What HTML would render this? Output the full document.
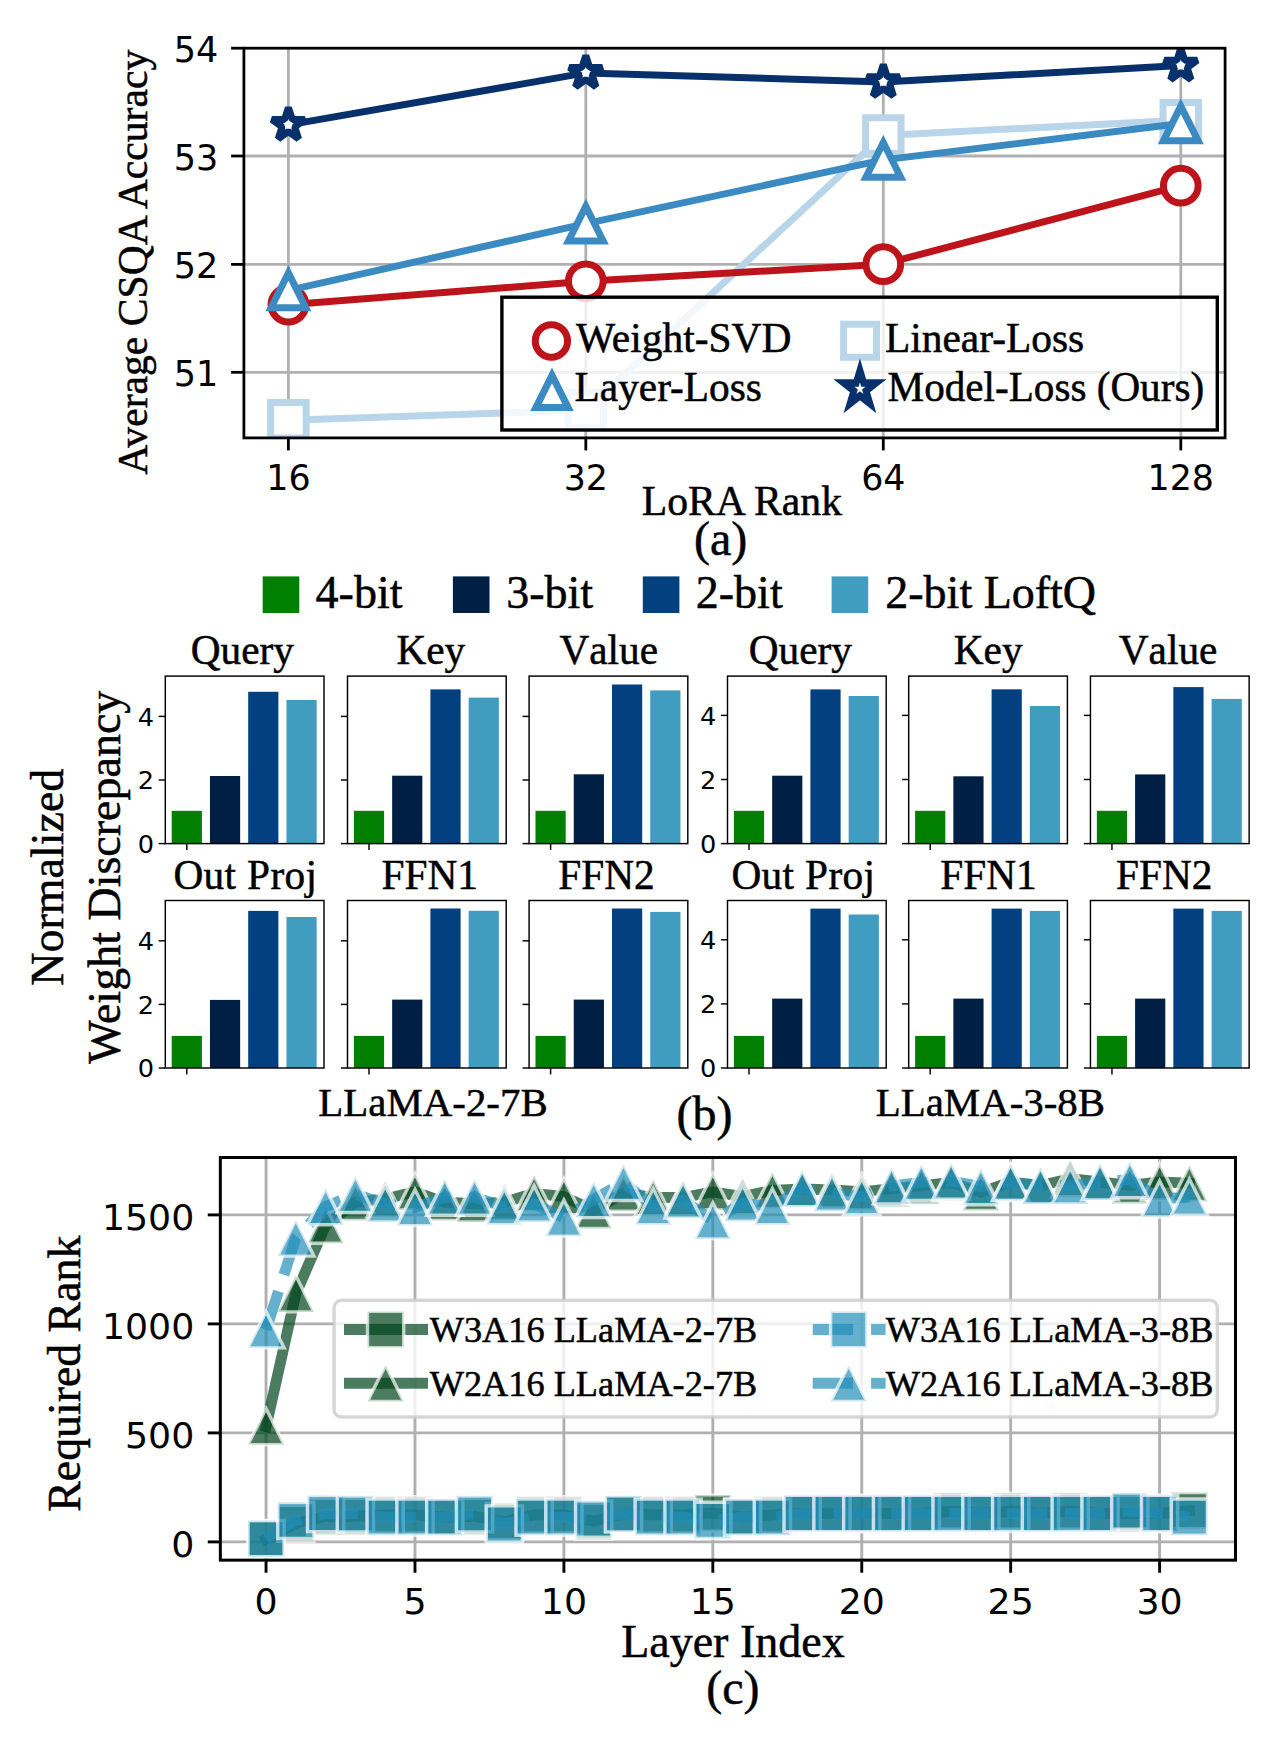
<!DOCTYPE html>
<html><head><meta charset="utf-8"><title>Figure</title>
<style>html,body{margin:0;padding:0;background:#fff}svg{display:block}</style></head>
<body>
<svg width="1265" height="1746" viewBox="0 0 1265 1746">
<rect width="1265" height="1746" fill="#fff"/>
<defs><clipPath id="ca"><rect x="243.9" y="48.2" width="981.2" height="389.7"/></clipPath></defs>
<line x1="288.4" y1="48.2" x2="288.4" y2="437.9" stroke="#b0b0b0" stroke-width="2.8" />
<line x1="585.8" y1="48.2" x2="585.8" y2="437.9" stroke="#b0b0b0" stroke-width="2.8" />
<line x1="883.3" y1="48.2" x2="883.3" y2="437.9" stroke="#b0b0b0" stroke-width="2.8" />
<line x1="1180.8" y1="48.2" x2="1180.8" y2="437.9" stroke="#b0b0b0" stroke-width="2.8" />
<line x1="243.9" y1="156" x2="1225.1" y2="156" stroke="#b0b0b0" stroke-width="2.8" />
<line x1="243.9" y1="264.4" x2="1225.1" y2="264.4" stroke="#b0b0b0" stroke-width="2.8" />
<line x1="243.9" y1="372.3" x2="1225.1" y2="372.3" stroke="#b0b0b0" stroke-width="2.8" />
<g clip-path="url(#ca)">
<polyline points="288.4,420.2 585.8,410.1 883.3,135.4 1180.8,120.3" fill="none" stroke="#b9d5ea" stroke-width="7" stroke-linejoin="round"/>
<path d="M270.65,402.45H306.15V437.95H270.65Z" fill="#fff" stroke="#b9d5ea" stroke-width="7" stroke-linejoin="miter"/>
<path d="M568.05,392.35H603.55V427.85H568.05Z" fill="#fff" stroke="#b9d5ea" stroke-width="7" stroke-linejoin="miter"/>
<path d="M865.55,117.65H901.05V153.15H865.55Z" fill="#fff" stroke="#b9d5ea" stroke-width="7" stroke-linejoin="miter"/>
<path d="M1163.05,102.55H1198.55V138.05H1163.05Z" fill="#fff" stroke="#b9d5ea" stroke-width="7" stroke-linejoin="miter"/>
<polyline points="288.4,304.7 585.8,281.3 883.3,264.15 1180.8,185.7" fill="none" stroke="#bc141a" stroke-width="7" stroke-linejoin="round"/>
<circle cx="288.4" cy="304.7" r="17.35" fill="#fff" stroke="#bc141a" stroke-width="7"/>
<circle cx="585.8" cy="281.3" r="17.35" fill="#fff" stroke="#bc141a" stroke-width="7"/>
<circle cx="883.3" cy="264.15" r="17.35" fill="#fff" stroke="#bc141a" stroke-width="7"/>
<circle cx="1180.8" cy="185.7" r="17.35" fill="#fff" stroke="#bc141a" stroke-width="7"/>
<polyline points="288.4,290.3 585.8,223.7 883.3,159.9 1180.8,123.5" fill="none" stroke="#3b8bc2" stroke-width="7" stroke-linejoin="round"/>
<path d="M288.4,272.95L271.05,307.65L305.75,307.65Z" fill="#fff" stroke="#3b8bc2" stroke-width="7" stroke-linejoin="miter" stroke-miterlimit="10"/>
<path d="M585.8,206.35L568.45,241.05L603.15,241.05Z" fill="#fff" stroke="#3b8bc2" stroke-width="7" stroke-linejoin="miter" stroke-miterlimit="10"/>
<path d="M883.3,142.55L865.95,177.25L900.65,177.25Z" fill="#fff" stroke="#3b8bc2" stroke-width="7" stroke-linejoin="miter" stroke-miterlimit="10"/>
<path d="M1180.8,106.15L1163.45,140.85L1198.15,140.85Z" fill="#fff" stroke="#3b8bc2" stroke-width="7" stroke-linejoin="miter" stroke-miterlimit="10"/>
<polyline points="288.4,124.9 585.8,72.9 883.3,82 1180.8,65.6" fill="none" stroke="#08306b" stroke-width="7" stroke-linejoin="round"/>
<path d="M288.4,107.55L284.5,119.54L271.9,119.54L282.1,126.95L278.2,138.94L288.4,131.53L298.6,138.94L294.7,126.95L304.9,119.54L292.3,119.54Z" fill="#fff" stroke="#08306b" stroke-width="7" stroke-linejoin="bevel" stroke-miterlimit="10"/>
<path d="M585.8,55.55L581.9,67.54L569.3,67.54L579.5,74.95L575.6,86.94L585.8,79.53L596,86.94L592.1,74.95L602.3,67.54L589.7,67.54Z" fill="#fff" stroke="#08306b" stroke-width="7" stroke-linejoin="bevel" stroke-miterlimit="10"/>
<path d="M883.3,64.65L879.4,76.64L866.8,76.64L877,84.05L873.1,96.04L883.3,88.63L893.5,96.04L889.6,84.05L899.8,76.64L887.2,76.64Z" fill="#fff" stroke="#08306b" stroke-width="7" stroke-linejoin="bevel" stroke-miterlimit="10"/>
<path d="M1180.8,48.25L1176.9,60.24L1164.3,60.24L1174.5,67.65L1170.6,79.64L1180.8,72.23L1191,79.64L1187.1,67.65L1197.3,60.24L1184.7,60.24Z" fill="#fff" stroke="#08306b" stroke-width="7" stroke-linejoin="bevel" stroke-miterlimit="10"/>
</g>
<rect x="243.9" y="48.2" width="981.2" height="389.7" fill="none" stroke="#000" stroke-width="2.8"/>
<line x1="288.4" y1="437.9" x2="288.4" y2="450.4" stroke="#000" stroke-width="2.8" />
<line x1="585.8" y1="437.9" x2="585.8" y2="450.4" stroke="#000" stroke-width="2.8" />
<line x1="883.3" y1="437.9" x2="883.3" y2="450.4" stroke="#000" stroke-width="2.8" />
<line x1="1180.8" y1="437.9" x2="1180.8" y2="450.4" stroke="#000" stroke-width="2.8" />
<line x1="231.1" y1="48.2" x2="243.9" y2="48.2" stroke="#000" stroke-width="2.8" />
<line x1="231.1" y1="156" x2="243.9" y2="156" stroke="#000" stroke-width="2.8" />
<line x1="231.1" y1="264.4" x2="243.9" y2="264.4" stroke="#000" stroke-width="2.8" />
<line x1="231.1" y1="372.3" x2="243.9" y2="372.3" stroke="#000" stroke-width="2.8" />
<text x="218.2" y="61.7" font-size="35" font-family="'DejaVu Sans','Liberation Sans',sans-serif" text-anchor="end" >54</text>
<text x="218.2" y="169.5" font-size="35" font-family="'DejaVu Sans','Liberation Sans',sans-serif" text-anchor="end" >53</text>
<text x="218.2" y="277.9" font-size="35" font-family="'DejaVu Sans','Liberation Sans',sans-serif" text-anchor="end" >52</text>
<text x="218.2" y="385.8" font-size="35" font-family="'DejaVu Sans','Liberation Sans',sans-serif" text-anchor="end" >51</text>
<text x="288.4" y="490.4" font-size="34.8" font-family="'DejaVu Sans','Liberation Sans',sans-serif" text-anchor="middle" >16</text>
<text x="585.8" y="490.4" font-size="34.8" font-family="'DejaVu Sans','Liberation Sans',sans-serif" text-anchor="middle" >32</text>
<text x="883.3" y="490.4" font-size="34.8" font-family="'DejaVu Sans','Liberation Sans',sans-serif" text-anchor="middle" >64</text>
<text x="1180.8" y="490.4" font-size="34.8" font-family="'DejaVu Sans','Liberation Sans',sans-serif" text-anchor="middle" >128</text>
<text transform="translate(146.8,262.2) rotate(-90)" font-size="41.67" font-family="'Liberation Serif',serif" stroke="#000" stroke-width="0.5" text-anchor="middle">Average CSQA Accuracy</text>
<text x="741.9" y="514.6" font-size="41.67" font-family="'Liberation Serif',serif" stroke="#000" stroke-width="0.5" text-anchor="middle" >LoRA Rank</text>
<text x="720.6" y="555" font-size="48" font-family="'Liberation Serif',serif" stroke="#000" stroke-width="0.5" text-anchor="middle" >(a)</text>
<rect x="501.9" y="297.2" width="715.4" height="132.8" fill="#fff" fill-opacity="0.8" stroke="#000" stroke-width="3.4"/>
<circle cx="551.4" cy="341" r="16.15" fill="#fff" stroke="#bc141a" stroke-width="7"/>
<path d="M552,375.4L535.9,407.6L568.1,407.6Z" fill="#fff" stroke="#3b8bc2" stroke-width="7" stroke-linejoin="miter" stroke-miterlimit="10"/>
<path d="M843.6,324.35H876.5V357.25H843.6Z" fill="#fff" stroke="#b9d5ea" stroke-width="7" stroke-linejoin="miter"/>
<g transform="translate(859.95,388.7) scale(0.972,1.054)">
<path d="M0,-17.35L-3.9,-5.36L-16.5,-5.36L-6.3,2.05L-10.2,14.04L-0,6.63L10.2,14.04L6.3,2.05L16.5,-5.36L3.9,-5.36Z" fill="#fff" stroke="#08306b" stroke-width="7" stroke-linejoin="miter" stroke-miterlimit="10"/>
</g>
<text x="576" y="352.1" font-size="41.45" font-family="'Liberation Serif',serif" stroke="#000" stroke-width="0.5" text-anchor="start" >Weight-SVD</text>
<text x="574.6" y="400.7" font-size="41.3" font-family="'Liberation Serif',serif" stroke="#000" stroke-width="0.5" text-anchor="start" >Layer-Loss</text>
<text x="885" y="352.1" font-size="41.4" font-family="'Liberation Serif',serif" stroke="#000" stroke-width="0.5" text-anchor="start" >Linear-Loss</text>
<text x="887.6" y="400.7" font-size="41.15" font-family="'Liberation Serif',serif" stroke="#000" stroke-width="0.5" text-anchor="start" >Model-Loss (Ours)</text>
<rect x="262.7" y="576.4" width="36.6" height="36.6" fill="#007f00" />
<text x="315.6" y="608.3" font-size="46" font-family="'Liberation Serif',serif" stroke="#000" stroke-width="0.5" text-anchor="start" >4-bit</text>
<rect x="452.9" y="576.4" width="36.6" height="36.6" fill="#001f44" />
<text x="506.2" y="608.3" font-size="46" font-family="'Liberation Serif',serif" stroke="#000" stroke-width="0.5" text-anchor="start" >3-bit</text>
<rect x="642.8" y="576.4" width="36.6" height="36.6" fill="#03407f" />
<text x="695.8" y="608.3" font-size="46" font-family="'Liberation Serif',serif" stroke="#000" stroke-width="0.5" text-anchor="start" >2-bit</text>
<rect x="831.6" y="576.4" width="36.6" height="36.6" fill="#409dbf" />
<text x="885.3" y="608.3" font-size="46" font-family="'Liberation Serif',serif" stroke="#000" stroke-width="0.5" text-anchor="start" >2-bit LoftQ</text>
<rect x="171.7" y="810.8" width="30.2" height="32.8" fill="#007f00" />
<rect x="209.95" y="776" width="30.2" height="67.6" fill="#001f44" />
<rect x="248.2" y="691.8" width="30.2" height="151.8" fill="#03407f" />
<rect x="286.45" y="700" width="30.2" height="143.6" fill="#409dbf" />
<rect x="165.3" y="676.1" width="158.7" height="167.5" fill="none" stroke="#000" stroke-width="1.45"/>
<line x1="158.7" y1="843.6" x2="165.3" y2="843.6" stroke="#000" stroke-width="1.45" />
<text x="154" y="853" font-size="25.6" font-family="'DejaVu Sans','Liberation Sans',sans-serif" text-anchor="end" >0</text>
<line x1="158.7" y1="780" x2="165.3" y2="780" stroke="#000" stroke-width="1.45" />
<text x="154" y="789.4" font-size="25.6" font-family="'DejaVu Sans','Liberation Sans',sans-serif" text-anchor="end" >2</text>
<line x1="158.7" y1="716.4" x2="165.3" y2="716.4" stroke="#000" stroke-width="1.45" />
<text x="154" y="725.8" font-size="25.6" font-family="'DejaVu Sans','Liberation Sans',sans-serif" text-anchor="end" >4</text>
<line x1="186.8" y1="843.6" x2="186.8" y2="850" stroke="#000" stroke-width="1.45" />
<text x="190.7" y="664" font-size="41.3" font-family="'Liberation Serif',serif" stroke="#000" stroke-width="0.5" text-anchor="start" >Query</text>
<rect x="353.9" y="810.8" width="30.2" height="32.8" fill="#007f00" />
<rect x="392.15" y="775.7" width="30.2" height="67.9" fill="#001f44" />
<rect x="430.4" y="689.4" width="30.2" height="154.2" fill="#03407f" />
<rect x="468.65" y="697.6" width="30.2" height="146" fill="#409dbf" />
<rect x="347.5" y="676.1" width="158.7" height="167.5" fill="none" stroke="#000" stroke-width="1.45"/>
<line x1="340.9" y1="843.6" x2="347.5" y2="843.6" stroke="#000" stroke-width="1.45" />
<line x1="340.9" y1="780" x2="347.5" y2="780" stroke="#000" stroke-width="1.45" />
<line x1="340.9" y1="716.4" x2="347.5" y2="716.4" stroke="#000" stroke-width="1.45" />
<line x1="369" y1="843.6" x2="369" y2="850" stroke="#000" stroke-width="1.45" />
<text x="396.4" y="664" font-size="41.3" font-family="'Liberation Serif',serif" stroke="#000" stroke-width="0.5" text-anchor="start" >Key</text>
<rect x="535.5" y="810.8" width="30.2" height="32.8" fill="#007f00" />
<rect x="573.75" y="774.3" width="30.2" height="69.3" fill="#001f44" />
<rect x="612" y="684.5" width="30.2" height="159.1" fill="#03407f" />
<rect x="650.25" y="690.4" width="30.2" height="153.2" fill="#409dbf" />
<rect x="529.1" y="676.1" width="158.7" height="167.5" fill="none" stroke="#000" stroke-width="1.45"/>
<line x1="522.5" y1="843.6" x2="529.1" y2="843.6" stroke="#000" stroke-width="1.45" />
<line x1="522.5" y1="780" x2="529.1" y2="780" stroke="#000" stroke-width="1.45" />
<line x1="522.5" y1="716.4" x2="529.1" y2="716.4" stroke="#000" stroke-width="1.45" />
<line x1="550.6" y1="843.6" x2="550.6" y2="850" stroke="#000" stroke-width="1.45" />
<text x="559.4" y="664" font-size="41.3" font-family="'Liberation Serif',serif" stroke="#000" stroke-width="0.5" text-anchor="start" style="font-kerning:none">Value</text>
<rect x="733.9" y="810.8" width="30.2" height="32.8" fill="#007f00" />
<rect x="772.15" y="775.7" width="30.2" height="67.9" fill="#001f44" />
<rect x="810.4" y="689.4" width="30.2" height="154.2" fill="#03407f" />
<rect x="848.65" y="696" width="30.2" height="147.6" fill="#409dbf" />
<rect x="727.5" y="676.1" width="158.7" height="167.5" fill="none" stroke="#000" stroke-width="1.45"/>
<line x1="720.9" y1="843.6" x2="727.5" y2="843.6" stroke="#000" stroke-width="1.45" />
<text x="716.2" y="853" font-size="25.6" font-family="'DejaVu Sans','Liberation Sans',sans-serif" text-anchor="end" >0</text>
<line x1="720.9" y1="779.5" x2="727.5" y2="779.5" stroke="#000" stroke-width="1.45" />
<text x="716.2" y="788.9" font-size="25.6" font-family="'DejaVu Sans','Liberation Sans',sans-serif" text-anchor="end" >2</text>
<line x1="720.9" y1="715.4" x2="727.5" y2="715.4" stroke="#000" stroke-width="1.45" />
<text x="716.2" y="724.8" font-size="25.6" font-family="'DejaVu Sans','Liberation Sans',sans-serif" text-anchor="end" >4</text>
<line x1="749" y1="843.6" x2="749" y2="850" stroke="#000" stroke-width="1.45" />
<text x="748.7" y="664" font-size="41.3" font-family="'Liberation Serif',serif" stroke="#000" stroke-width="0.5" text-anchor="start" >Query</text>
<rect x="915.1" y="810.8" width="30.2" height="32.8" fill="#007f00" />
<rect x="953.35" y="776.3" width="30.2" height="67.3" fill="#001f44" />
<rect x="991.6" y="689.3" width="30.2" height="154.3" fill="#03407f" />
<rect x="1029.85" y="706" width="30.2" height="137.6" fill="#409dbf" />
<rect x="908.7" y="676.1" width="158.7" height="167.5" fill="none" stroke="#000" stroke-width="1.45"/>
<line x1="902.1" y1="843.6" x2="908.7" y2="843.6" stroke="#000" stroke-width="1.45" />
<line x1="902.1" y1="779.5" x2="908.7" y2="779.5" stroke="#000" stroke-width="1.45" />
<line x1="902.1" y1="715.4" x2="908.7" y2="715.4" stroke="#000" stroke-width="1.45" />
<line x1="930.2" y1="843.6" x2="930.2" y2="850" stroke="#000" stroke-width="1.45" />
<text x="953.8" y="664" font-size="41.3" font-family="'Liberation Serif',serif" stroke="#000" stroke-width="0.5" text-anchor="start" >Key</text>
<rect x="1096.85" y="810.8" width="30.2" height="32.8" fill="#007f00" />
<rect x="1135.1" y="774.4" width="30.2" height="69.2" fill="#001f44" />
<rect x="1173.35" y="687.1" width="30.2" height="156.5" fill="#03407f" />
<rect x="1211.6" y="698.9" width="30.2" height="144.7" fill="#409dbf" />
<rect x="1090.45" y="676.1" width="158.7" height="167.5" fill="none" stroke="#000" stroke-width="1.45"/>
<line x1="1083.85" y1="843.6" x2="1090.45" y2="843.6" stroke="#000" stroke-width="1.45" />
<line x1="1083.85" y1="779.5" x2="1090.45" y2="779.5" stroke="#000" stroke-width="1.45" />
<line x1="1083.85" y1="715.4" x2="1090.45" y2="715.4" stroke="#000" stroke-width="1.45" />
<line x1="1111.95" y1="843.6" x2="1111.95" y2="850" stroke="#000" stroke-width="1.45" />
<text x="1118.8" y="664" font-size="41.3" font-family="'Liberation Serif',serif" stroke="#000" stroke-width="0.5" text-anchor="start" style="font-kerning:none">Value</text>
<rect x="171.7" y="1035.9" width="30.2" height="32.1" fill="#007f00" />
<rect x="209.95" y="999.9" width="30.2" height="68.1" fill="#001f44" />
<rect x="248.2" y="910.9" width="30.2" height="157.1" fill="#03407f" />
<rect x="286.45" y="917" width="30.2" height="151" fill="#409dbf" />
<rect x="165.3" y="900.5" width="158.7" height="167.5" fill="none" stroke="#000" stroke-width="1.45"/>
<line x1="158.7" y1="1068" x2="165.3" y2="1068" stroke="#000" stroke-width="1.45" />
<text x="154" y="1077.4" font-size="25.6" font-family="'DejaVu Sans','Liberation Sans',sans-serif" text-anchor="end" >0</text>
<line x1="158.7" y1="1004.4" x2="165.3" y2="1004.4" stroke="#000" stroke-width="1.45" />
<text x="154" y="1013.8" font-size="25.6" font-family="'DejaVu Sans','Liberation Sans',sans-serif" text-anchor="end" >2</text>
<line x1="158.7" y1="940.8" x2="165.3" y2="940.8" stroke="#000" stroke-width="1.45" />
<text x="154" y="950.2" font-size="25.6" font-family="'DejaVu Sans','Liberation Sans',sans-serif" text-anchor="end" >4</text>
<line x1="186.8" y1="1068" x2="186.8" y2="1074.4" stroke="#000" stroke-width="1.45" />
<text x="173.4" y="889.3" font-size="41.3" font-family="'Liberation Serif',serif" stroke="#000" stroke-width="0.5" text-anchor="start" letter-spacing="0.35">Out Proj</text>
<rect x="353.9" y="1035.9" width="30.2" height="32.1" fill="#007f00" />
<rect x="392.15" y="999.6" width="30.2" height="68.4" fill="#001f44" />
<rect x="430.4" y="908.5" width="30.2" height="159.5" fill="#03407f" />
<rect x="468.65" y="910.8" width="30.2" height="157.2" fill="#409dbf" />
<rect x="347.5" y="900.5" width="158.7" height="167.5" fill="none" stroke="#000" stroke-width="1.45"/>
<line x1="340.9" y1="1068" x2="347.5" y2="1068" stroke="#000" stroke-width="1.45" />
<line x1="340.9" y1="1004.4" x2="347.5" y2="1004.4" stroke="#000" stroke-width="1.45" />
<line x1="340.9" y1="940.8" x2="347.5" y2="940.8" stroke="#000" stroke-width="1.45" />
<line x1="369" y1="1068" x2="369" y2="1074.4" stroke="#000" stroke-width="1.45" />
<text x="381.5" y="889.3" font-size="41.3" font-family="'Liberation Serif',serif" stroke="#000" stroke-width="0.5" text-anchor="start" >FFN1</text>
<rect x="535.5" y="1035.9" width="30.2" height="32.1" fill="#007f00" />
<rect x="573.75" y="999.6" width="30.2" height="68.4" fill="#001f44" />
<rect x="612" y="908.5" width="30.2" height="159.5" fill="#03407f" />
<rect x="650.25" y="911.9" width="30.2" height="156.1" fill="#409dbf" />
<rect x="529.1" y="900.5" width="158.7" height="167.5" fill="none" stroke="#000" stroke-width="1.45"/>
<line x1="522.5" y1="1068" x2="529.1" y2="1068" stroke="#000" stroke-width="1.45" />
<line x1="522.5" y1="1004.4" x2="529.1" y2="1004.4" stroke="#000" stroke-width="1.45" />
<line x1="522.5" y1="940.8" x2="529.1" y2="940.8" stroke="#000" stroke-width="1.45" />
<line x1="550.6" y1="1068" x2="550.6" y2="1074.4" stroke="#000" stroke-width="1.45" />
<text x="558.3" y="889.3" font-size="41.3" font-family="'Liberation Serif',serif" stroke="#000" stroke-width="0.5" text-anchor="start" >FFN2</text>
<rect x="733.9" y="1035.9" width="30.2" height="32.1" fill="#007f00" />
<rect x="772.15" y="998.6" width="30.2" height="69.4" fill="#001f44" />
<rect x="810.4" y="908.6" width="30.2" height="159.4" fill="#03407f" />
<rect x="848.65" y="914.5" width="30.2" height="153.5" fill="#409dbf" />
<rect x="727.5" y="900.5" width="158.7" height="167.5" fill="none" stroke="#000" stroke-width="1.45"/>
<line x1="720.9" y1="1068" x2="727.5" y2="1068" stroke="#000" stroke-width="1.45" />
<text x="716.2" y="1077.4" font-size="25.6" font-family="'DejaVu Sans','Liberation Sans',sans-serif" text-anchor="end" >0</text>
<line x1="720.9" y1="1003.9" x2="727.5" y2="1003.9" stroke="#000" stroke-width="1.45" />
<text x="716.2" y="1013.3" font-size="25.6" font-family="'DejaVu Sans','Liberation Sans',sans-serif" text-anchor="end" >2</text>
<line x1="720.9" y1="939.8" x2="727.5" y2="939.8" stroke="#000" stroke-width="1.45" />
<text x="716.2" y="949.2" font-size="25.6" font-family="'DejaVu Sans','Liberation Sans',sans-serif" text-anchor="end" >4</text>
<line x1="749" y1="1068" x2="749" y2="1074.4" stroke="#000" stroke-width="1.45" />
<text x="731.4" y="889.3" font-size="41.3" font-family="'Liberation Serif',serif" stroke="#000" stroke-width="0.5" text-anchor="start" letter-spacing="0.35">Out Proj</text>
<rect x="915.1" y="1035.9" width="30.2" height="32.1" fill="#007f00" />
<rect x="953.35" y="998.6" width="30.2" height="69.4" fill="#001f44" />
<rect x="991.6" y="908.6" width="30.2" height="159.4" fill="#03407f" />
<rect x="1029.85" y="910.9" width="30.2" height="157.1" fill="#409dbf" />
<rect x="908.7" y="900.5" width="158.7" height="167.5" fill="none" stroke="#000" stroke-width="1.45"/>
<line x1="902.1" y1="1068" x2="908.7" y2="1068" stroke="#000" stroke-width="1.45" />
<line x1="902.1" y1="1003.9" x2="908.7" y2="1003.9" stroke="#000" stroke-width="1.45" />
<line x1="902.1" y1="939.8" x2="908.7" y2="939.8" stroke="#000" stroke-width="1.45" />
<line x1="930.2" y1="1068" x2="930.2" y2="1074.4" stroke="#000" stroke-width="1.45" />
<text x="940.3" y="889.3" font-size="41.3" font-family="'Liberation Serif',serif" stroke="#000" stroke-width="0.5" text-anchor="start" >FFN1</text>
<rect x="1096.85" y="1035.9" width="30.2" height="32.1" fill="#007f00" />
<rect x="1135.1" y="998.6" width="30.2" height="69.4" fill="#001f44" />
<rect x="1173.35" y="908.6" width="30.2" height="159.4" fill="#03407f" />
<rect x="1211.6" y="910.9" width="30.2" height="157.1" fill="#409dbf" />
<rect x="1090.45" y="900.5" width="158.7" height="167.5" fill="none" stroke="#000" stroke-width="1.45"/>
<line x1="1083.85" y1="1068" x2="1090.45" y2="1068" stroke="#000" stroke-width="1.45" />
<line x1="1083.85" y1="1003.9" x2="1090.45" y2="1003.9" stroke="#000" stroke-width="1.45" />
<line x1="1083.85" y1="939.8" x2="1090.45" y2="939.8" stroke="#000" stroke-width="1.45" />
<line x1="1111.95" y1="1068" x2="1111.95" y2="1074.4" stroke="#000" stroke-width="1.45" />
<text x="1116" y="889.3" font-size="41.3" font-family="'Liberation Serif',serif" stroke="#000" stroke-width="0.5" text-anchor="start" >FFN2</text>
<text transform="translate(63.3,877.25) rotate(-90)" font-size="46" font-family="'Liberation Serif',serif" stroke="#000" stroke-width="0.5" text-anchor="middle">Normalized</text>
<text transform="translate(119.9,877.25) rotate(-90)" font-size="46" font-family="'Liberation Serif',serif" stroke="#000" stroke-width="0.5" text-anchor="middle">Weight Discrepancy</text>
<text x="433" y="1115.5" font-size="40.9" font-family="'Liberation Serif',serif" stroke="#000" stroke-width="0.5" text-anchor="middle" >LLaMA-2-7B</text>
<text x="990.4" y="1115.5" font-size="40.9" font-family="'Liberation Serif',serif" stroke="#000" stroke-width="0.5" text-anchor="middle" >LLaMA-3-8B</text>
<text x="704.4" y="1130" font-size="48" font-family="'Liberation Serif',serif" stroke="#000" stroke-width="0.5" text-anchor="middle" >(b)</text>
<line x1="266.05" y1="1157.5" x2="266.05" y2="1560.15" stroke="#b0b0b0" stroke-width="2.9" />
<line x1="414.98" y1="1157.5" x2="414.98" y2="1560.15" stroke="#b0b0b0" stroke-width="2.9" />
<line x1="563.9" y1="1157.5" x2="563.9" y2="1560.15" stroke="#b0b0b0" stroke-width="2.9" />
<line x1="712.83" y1="1157.5" x2="712.83" y2="1560.15" stroke="#b0b0b0" stroke-width="2.9" />
<line x1="861.75" y1="1157.5" x2="861.75" y2="1560.15" stroke="#b0b0b0" stroke-width="2.9" />
<line x1="1010.67" y1="1157.5" x2="1010.67" y2="1560.15" stroke="#b0b0b0" stroke-width="2.9" />
<line x1="1159.6" y1="1157.5" x2="1159.6" y2="1560.15" stroke="#b0b0b0" stroke-width="2.9" />
<line x1="220.35" y1="1541.9" x2="1235.5" y2="1541.9" stroke="#b0b0b0" stroke-width="2.9" />
<line x1="220.35" y1="1432.9" x2="1235.5" y2="1432.9" stroke="#b0b0b0" stroke-width="2.9" />
<line x1="220.35" y1="1323.9" x2="1235.5" y2="1323.9" stroke="#b0b0b0" stroke-width="2.9" />
<line x1="220.35" y1="1214.9" x2="1235.5" y2="1214.9" stroke="#b0b0b0" stroke-width="2.9" />
<defs><clipPath id="cc"><rect x="220.35" y="1157.5" width="1015.15" height="402.65"/></clipPath></defs>
<g clip-path="url(#cc)">
<polyline points="266.05,1538.8 295.84,1523.3 325.62,1516.5 355.41,1516.3 385.19,1514.9 414.98,1514.9 444.76,1517.2 474.55,1516.3 504.33,1521.5 534.12,1514.9 563.9,1514.9 593.68,1521.3 623.47,1514 653.25,1514.9 683.04,1514.9 712.83,1513 742.61,1517.2 772.39,1514.9 802.18,1513.5 831.96,1513.5 861.75,1513.5 891.54,1513.5 921.32,1513.5 951.11,1511.2 980.89,1513.5 1010.67,1511.2 1040.46,1513.5 1070.25,1511.2 1100.03,1513.5 1129.82,1513.3 1159.6,1513.5 1189.38,1510.7" fill="none" stroke="#00441b" stroke-opacity="0.7" stroke-width="10.9" stroke-linejoin="round" stroke-linecap="square"/>
<path d="M247.95,1520.7H284.15V1556.9H247.95Z" fill="#00441b" fill-opacity="0.7" stroke="#fff" stroke-opacity="0.7" stroke-width="3.4" stroke-linejoin="miter" stroke-miterlimit="10"/>
<path d="M277.74,1505.2H313.94V1541.4H277.74Z" fill="#00441b" fill-opacity="0.7" stroke="#fff" stroke-opacity="0.7" stroke-width="3.4" stroke-linejoin="miter" stroke-miterlimit="10"/>
<path d="M307.52,1498.4H343.72V1534.6H307.52Z" fill="#00441b" fill-opacity="0.7" stroke="#fff" stroke-opacity="0.7" stroke-width="3.4" stroke-linejoin="miter" stroke-miterlimit="10"/>
<path d="M337.31,1498.2H373.51V1534.4H337.31Z" fill="#00441b" fill-opacity="0.7" stroke="#fff" stroke-opacity="0.7" stroke-width="3.4" stroke-linejoin="miter" stroke-miterlimit="10"/>
<path d="M367.09,1496.8H403.29V1533H367.09Z" fill="#00441b" fill-opacity="0.7" stroke="#fff" stroke-opacity="0.7" stroke-width="3.4" stroke-linejoin="miter" stroke-miterlimit="10"/>
<path d="M396.88,1496.8H433.08V1533H396.88Z" fill="#00441b" fill-opacity="0.7" stroke="#fff" stroke-opacity="0.7" stroke-width="3.4" stroke-linejoin="miter" stroke-miterlimit="10"/>
<path d="M426.66,1499.1H462.86V1535.3H426.66Z" fill="#00441b" fill-opacity="0.7" stroke="#fff" stroke-opacity="0.7" stroke-width="3.4" stroke-linejoin="miter" stroke-miterlimit="10"/>
<path d="M456.44,1498.2H492.65V1534.4H456.44Z" fill="#00441b" fill-opacity="0.7" stroke="#fff" stroke-opacity="0.7" stroke-width="3.4" stroke-linejoin="miter" stroke-miterlimit="10"/>
<path d="M486.23,1503.4H522.43V1539.6H486.23Z" fill="#00441b" fill-opacity="0.7" stroke="#fff" stroke-opacity="0.7" stroke-width="3.4" stroke-linejoin="miter" stroke-miterlimit="10"/>
<path d="M516.01,1496.8H552.22V1533H516.01Z" fill="#00441b" fill-opacity="0.7" stroke="#fff" stroke-opacity="0.7" stroke-width="3.4" stroke-linejoin="miter" stroke-miterlimit="10"/>
<path d="M545.8,1496.8H582V1533H545.8Z" fill="#00441b" fill-opacity="0.7" stroke="#fff" stroke-opacity="0.7" stroke-width="3.4" stroke-linejoin="miter" stroke-miterlimit="10"/>
<path d="M575.58,1503.2H611.78V1539.4H575.58Z" fill="#00441b" fill-opacity="0.7" stroke="#fff" stroke-opacity="0.7" stroke-width="3.4" stroke-linejoin="miter" stroke-miterlimit="10"/>
<path d="M605.37,1495.9H641.57V1532.1H605.37Z" fill="#00441b" fill-opacity="0.7" stroke="#fff" stroke-opacity="0.7" stroke-width="3.4" stroke-linejoin="miter" stroke-miterlimit="10"/>
<path d="M635.15,1496.8H671.36V1533H635.15Z" fill="#00441b" fill-opacity="0.7" stroke="#fff" stroke-opacity="0.7" stroke-width="3.4" stroke-linejoin="miter" stroke-miterlimit="10"/>
<path d="M664.94,1496.8H701.14V1533H664.94Z" fill="#00441b" fill-opacity="0.7" stroke="#fff" stroke-opacity="0.7" stroke-width="3.4" stroke-linejoin="miter" stroke-miterlimit="10"/>
<path d="M694.73,1494.9H730.93V1531.1H694.73Z" fill="#00441b" fill-opacity="0.7" stroke="#fff" stroke-opacity="0.7" stroke-width="3.4" stroke-linejoin="miter" stroke-miterlimit="10"/>
<path d="M724.51,1499.1H760.71V1535.3H724.51Z" fill="#00441b" fill-opacity="0.7" stroke="#fff" stroke-opacity="0.7" stroke-width="3.4" stroke-linejoin="miter" stroke-miterlimit="10"/>
<path d="M754.29,1496.8H790.5V1533H754.29Z" fill="#00441b" fill-opacity="0.7" stroke="#fff" stroke-opacity="0.7" stroke-width="3.4" stroke-linejoin="miter" stroke-miterlimit="10"/>
<path d="M784.08,1495.4H820.28V1531.6H784.08Z" fill="#00441b" fill-opacity="0.7" stroke="#fff" stroke-opacity="0.7" stroke-width="3.4" stroke-linejoin="miter" stroke-miterlimit="10"/>
<path d="M813.86,1495.4H850.06V1531.6H813.86Z" fill="#00441b" fill-opacity="0.7" stroke="#fff" stroke-opacity="0.7" stroke-width="3.4" stroke-linejoin="miter" stroke-miterlimit="10"/>
<path d="M843.65,1495.4H879.85V1531.6H843.65Z" fill="#00441b" fill-opacity="0.7" stroke="#fff" stroke-opacity="0.7" stroke-width="3.4" stroke-linejoin="miter" stroke-miterlimit="10"/>
<path d="M873.44,1495.4H909.64V1531.6H873.44Z" fill="#00441b" fill-opacity="0.7" stroke="#fff" stroke-opacity="0.7" stroke-width="3.4" stroke-linejoin="miter" stroke-miterlimit="10"/>
<path d="M903.22,1495.4H939.42V1531.6H903.22Z" fill="#00441b" fill-opacity="0.7" stroke="#fff" stroke-opacity="0.7" stroke-width="3.4" stroke-linejoin="miter" stroke-miterlimit="10"/>
<path d="M933,1493.1H969.21V1529.3H933Z" fill="#00441b" fill-opacity="0.7" stroke="#fff" stroke-opacity="0.7" stroke-width="3.4" stroke-linejoin="miter" stroke-miterlimit="10"/>
<path d="M962.79,1495.4H998.99V1531.6H962.79Z" fill="#00441b" fill-opacity="0.7" stroke="#fff" stroke-opacity="0.7" stroke-width="3.4" stroke-linejoin="miter" stroke-miterlimit="10"/>
<path d="M992.57,1493.1H1028.77V1529.3H992.57Z" fill="#00441b" fill-opacity="0.7" stroke="#fff" stroke-opacity="0.7" stroke-width="3.4" stroke-linejoin="miter" stroke-miterlimit="10"/>
<path d="M1022.36,1495.4H1058.56V1531.6H1022.36Z" fill="#00441b" fill-opacity="0.7" stroke="#fff" stroke-opacity="0.7" stroke-width="3.4" stroke-linejoin="miter" stroke-miterlimit="10"/>
<path d="M1052.15,1493.1H1088.35V1529.3H1052.15Z" fill="#00441b" fill-opacity="0.7" stroke="#fff" stroke-opacity="0.7" stroke-width="3.4" stroke-linejoin="miter" stroke-miterlimit="10"/>
<path d="M1081.93,1495.4H1118.13V1531.6H1081.93Z" fill="#00441b" fill-opacity="0.7" stroke="#fff" stroke-opacity="0.7" stroke-width="3.4" stroke-linejoin="miter" stroke-miterlimit="10"/>
<path d="M1111.72,1495.2H1147.91V1531.4H1111.72Z" fill="#00441b" fill-opacity="0.7" stroke="#fff" stroke-opacity="0.7" stroke-width="3.4" stroke-linejoin="miter" stroke-miterlimit="10"/>
<path d="M1141.5,1495.4H1177.7V1531.6H1141.5Z" fill="#00441b" fill-opacity="0.7" stroke="#fff" stroke-opacity="0.7" stroke-width="3.4" stroke-linejoin="miter" stroke-miterlimit="10"/>
<path d="M1171.29,1492.6H1207.48V1528.8H1171.29Z" fill="#00441b" fill-opacity="0.7" stroke="#fff" stroke-opacity="0.7" stroke-width="3.4" stroke-linejoin="miter" stroke-miterlimit="10"/>
<polyline points="266.05,1426.7 295.84,1293.8 325.62,1225.1 355.41,1202.3 385.19,1199 414.98,1191.8 444.76,1202.3 474.55,1203.8 504.33,1202.4 534.12,1193.3 563.9,1196.7 593.68,1210.3 623.47,1193.2 653.25,1197.5 683.04,1197.5 712.83,1191.8 742.61,1196.7 772.39,1190.4 802.18,1189 831.96,1189.9 861.75,1191.8 891.54,1188.7 921.32,1185.8 951.11,1182.4 980.89,1192.4 1010.67,1182 1040.46,1185.5 1070.25,1178.7 1100.03,1182 1129.82,1185.3 1159.6,1181.9 1189.38,1183.3" fill="none" stroke="#00441b" stroke-opacity="0.7" stroke-width="10.9" stroke-linejoin="round" stroke-linecap="square"/>
<path d="M266.05,1408.6L247.95,1444.8L284.15,1444.8Z" fill="#00441b" fill-opacity="0.7" stroke="#fff" stroke-opacity="0.7" stroke-width="3.4" stroke-linejoin="miter" stroke-miterlimit="10"/>
<path d="M295.84,1275.7L277.74,1311.9L313.94,1311.9Z" fill="#00441b" fill-opacity="0.7" stroke="#fff" stroke-opacity="0.7" stroke-width="3.4" stroke-linejoin="miter" stroke-miterlimit="10"/>
<path d="M325.62,1207L307.52,1243.2L343.72,1243.2Z" fill="#00441b" fill-opacity="0.7" stroke="#fff" stroke-opacity="0.7" stroke-width="3.4" stroke-linejoin="miter" stroke-miterlimit="10"/>
<path d="M355.41,1184.2L337.31,1220.4L373.51,1220.4Z" fill="#00441b" fill-opacity="0.7" stroke="#fff" stroke-opacity="0.7" stroke-width="3.4" stroke-linejoin="miter" stroke-miterlimit="10"/>
<path d="M385.19,1180.9L367.09,1217.1L403.29,1217.1Z" fill="#00441b" fill-opacity="0.7" stroke="#fff" stroke-opacity="0.7" stroke-width="3.4" stroke-linejoin="miter" stroke-miterlimit="10"/>
<path d="M414.98,1173.7L396.88,1209.9L433.08,1209.9Z" fill="#00441b" fill-opacity="0.7" stroke="#fff" stroke-opacity="0.7" stroke-width="3.4" stroke-linejoin="miter" stroke-miterlimit="10"/>
<path d="M444.76,1184.2L426.66,1220.4L462.86,1220.4Z" fill="#00441b" fill-opacity="0.7" stroke="#fff" stroke-opacity="0.7" stroke-width="3.4" stroke-linejoin="miter" stroke-miterlimit="10"/>
<path d="M474.55,1185.7L456.44,1221.9L492.65,1221.9Z" fill="#00441b" fill-opacity="0.7" stroke="#fff" stroke-opacity="0.7" stroke-width="3.4" stroke-linejoin="miter" stroke-miterlimit="10"/>
<path d="M504.33,1184.3L486.23,1220.5L522.43,1220.5Z" fill="#00441b" fill-opacity="0.7" stroke="#fff" stroke-opacity="0.7" stroke-width="3.4" stroke-linejoin="miter" stroke-miterlimit="10"/>
<path d="M534.12,1175.2L516.01,1211.4L552.22,1211.4Z" fill="#00441b" fill-opacity="0.7" stroke="#fff" stroke-opacity="0.7" stroke-width="3.4" stroke-linejoin="miter" stroke-miterlimit="10"/>
<path d="M563.9,1178.6L545.8,1214.8L582,1214.8Z" fill="#00441b" fill-opacity="0.7" stroke="#fff" stroke-opacity="0.7" stroke-width="3.4" stroke-linejoin="miter" stroke-miterlimit="10"/>
<path d="M593.68,1192.2L575.58,1228.4L611.78,1228.4Z" fill="#00441b" fill-opacity="0.7" stroke="#fff" stroke-opacity="0.7" stroke-width="3.4" stroke-linejoin="miter" stroke-miterlimit="10"/>
<path d="M623.47,1175.1L605.37,1211.3L641.57,1211.3Z" fill="#00441b" fill-opacity="0.7" stroke="#fff" stroke-opacity="0.7" stroke-width="3.4" stroke-linejoin="miter" stroke-miterlimit="10"/>
<path d="M653.25,1179.4L635.15,1215.6L671.36,1215.6Z" fill="#00441b" fill-opacity="0.7" stroke="#fff" stroke-opacity="0.7" stroke-width="3.4" stroke-linejoin="miter" stroke-miterlimit="10"/>
<path d="M683.04,1179.4L664.94,1215.6L701.14,1215.6Z" fill="#00441b" fill-opacity="0.7" stroke="#fff" stroke-opacity="0.7" stroke-width="3.4" stroke-linejoin="miter" stroke-miterlimit="10"/>
<path d="M712.83,1173.7L694.73,1209.9L730.93,1209.9Z" fill="#00441b" fill-opacity="0.7" stroke="#fff" stroke-opacity="0.7" stroke-width="3.4" stroke-linejoin="miter" stroke-miterlimit="10"/>
<path d="M742.61,1178.6L724.51,1214.8L760.71,1214.8Z" fill="#00441b" fill-opacity="0.7" stroke="#fff" stroke-opacity="0.7" stroke-width="3.4" stroke-linejoin="miter" stroke-miterlimit="10"/>
<path d="M772.39,1172.3L754.29,1208.5L790.5,1208.5Z" fill="#00441b" fill-opacity="0.7" stroke="#fff" stroke-opacity="0.7" stroke-width="3.4" stroke-linejoin="miter" stroke-miterlimit="10"/>
<path d="M802.18,1170.9L784.08,1207.1L820.28,1207.1Z" fill="#00441b" fill-opacity="0.7" stroke="#fff" stroke-opacity="0.7" stroke-width="3.4" stroke-linejoin="miter" stroke-miterlimit="10"/>
<path d="M831.96,1171.8L813.86,1208L850.06,1208Z" fill="#00441b" fill-opacity="0.7" stroke="#fff" stroke-opacity="0.7" stroke-width="3.4" stroke-linejoin="miter" stroke-miterlimit="10"/>
<path d="M861.75,1173.7L843.65,1209.9L879.85,1209.9Z" fill="#00441b" fill-opacity="0.7" stroke="#fff" stroke-opacity="0.7" stroke-width="3.4" stroke-linejoin="miter" stroke-miterlimit="10"/>
<path d="M891.54,1170.6L873.44,1206.8L909.64,1206.8Z" fill="#00441b" fill-opacity="0.7" stroke="#fff" stroke-opacity="0.7" stroke-width="3.4" stroke-linejoin="miter" stroke-miterlimit="10"/>
<path d="M921.32,1167.7L903.22,1203.9L939.42,1203.9Z" fill="#00441b" fill-opacity="0.7" stroke="#fff" stroke-opacity="0.7" stroke-width="3.4" stroke-linejoin="miter" stroke-miterlimit="10"/>
<path d="M951.11,1164.3L933,1200.5L969.21,1200.5Z" fill="#00441b" fill-opacity="0.7" stroke="#fff" stroke-opacity="0.7" stroke-width="3.4" stroke-linejoin="miter" stroke-miterlimit="10"/>
<path d="M980.89,1174.3L962.79,1210.5L998.99,1210.5Z" fill="#00441b" fill-opacity="0.7" stroke="#fff" stroke-opacity="0.7" stroke-width="3.4" stroke-linejoin="miter" stroke-miterlimit="10"/>
<path d="M1010.67,1163.9L992.57,1200.1L1028.77,1200.1Z" fill="#00441b" fill-opacity="0.7" stroke="#fff" stroke-opacity="0.7" stroke-width="3.4" stroke-linejoin="miter" stroke-miterlimit="10"/>
<path d="M1040.46,1167.4L1022.36,1203.6L1058.56,1203.6Z" fill="#00441b" fill-opacity="0.7" stroke="#fff" stroke-opacity="0.7" stroke-width="3.4" stroke-linejoin="miter" stroke-miterlimit="10"/>
<path d="M1070.25,1160.6L1052.15,1196.8L1088.35,1196.8Z" fill="#00441b" fill-opacity="0.7" stroke="#fff" stroke-opacity="0.7" stroke-width="3.4" stroke-linejoin="miter" stroke-miterlimit="10"/>
<path d="M1100.03,1163.9L1081.93,1200.1L1118.13,1200.1Z" fill="#00441b" fill-opacity="0.7" stroke="#fff" stroke-opacity="0.7" stroke-width="3.4" stroke-linejoin="miter" stroke-miterlimit="10"/>
<path d="M1129.82,1167.2L1111.72,1203.4L1147.91,1203.4Z" fill="#00441b" fill-opacity="0.7" stroke="#fff" stroke-opacity="0.7" stroke-width="3.4" stroke-linejoin="miter" stroke-miterlimit="10"/>
<path d="M1159.6,1163.8L1141.5,1200L1177.7,1200Z" fill="#00441b" fill-opacity="0.7" stroke="#fff" stroke-opacity="0.7" stroke-width="3.4" stroke-linejoin="miter" stroke-miterlimit="10"/>
<path d="M1189.38,1165.2L1171.29,1201.4L1207.48,1201.4Z" fill="#00441b" fill-opacity="0.7" stroke="#fff" stroke-opacity="0.7" stroke-width="3.4" stroke-linejoin="miter" stroke-miterlimit="10"/>
<polyline points="266.05,1538.6 295.84,1520.3 325.62,1513.5 355.41,1513.8 385.19,1517.2 414.98,1517.2 444.76,1517.2 474.55,1513.8 504.33,1524 534.12,1517.2 563.9,1517.2 593.68,1519 623.47,1513.8 653.25,1517.2 683.04,1517.2 712.83,1520.3 742.61,1517.2 772.39,1517.2 802.18,1513.5 831.96,1513.5 861.75,1513.5 891.54,1513.5 921.32,1513.5 951.11,1513.5 980.89,1513.5 1010.67,1513.5 1040.46,1513.5 1070.25,1513.5 1100.03,1513.5 1129.82,1511 1159.6,1513.5 1189.38,1517.1" fill="none" stroke="#228eb8" stroke-opacity="0.7" stroke-width="10.9" stroke-linejoin="round" stroke-dasharray="40.33 17.44"/>
<path d="M247.95,1520.5H284.15V1556.7H247.95Z" fill="#228eb8" fill-opacity="0.7" stroke="#fff" stroke-opacity="0.7" stroke-width="3.4" stroke-linejoin="miter" stroke-miterlimit="10"/>
<path d="M277.74,1502.2H313.94V1538.4H277.74Z" fill="#228eb8" fill-opacity="0.7" stroke="#fff" stroke-opacity="0.7" stroke-width="3.4" stroke-linejoin="miter" stroke-miterlimit="10"/>
<path d="M307.52,1495.4H343.72V1531.6H307.52Z" fill="#228eb8" fill-opacity="0.7" stroke="#fff" stroke-opacity="0.7" stroke-width="3.4" stroke-linejoin="miter" stroke-miterlimit="10"/>
<path d="M337.31,1495.7H373.51V1531.9H337.31Z" fill="#228eb8" fill-opacity="0.7" stroke="#fff" stroke-opacity="0.7" stroke-width="3.4" stroke-linejoin="miter" stroke-miterlimit="10"/>
<path d="M367.09,1499.1H403.29V1535.3H367.09Z" fill="#228eb8" fill-opacity="0.7" stroke="#fff" stroke-opacity="0.7" stroke-width="3.4" stroke-linejoin="miter" stroke-miterlimit="10"/>
<path d="M396.88,1499.1H433.08V1535.3H396.88Z" fill="#228eb8" fill-opacity="0.7" stroke="#fff" stroke-opacity="0.7" stroke-width="3.4" stroke-linejoin="miter" stroke-miterlimit="10"/>
<path d="M426.66,1499.1H462.86V1535.3H426.66Z" fill="#228eb8" fill-opacity="0.7" stroke="#fff" stroke-opacity="0.7" stroke-width="3.4" stroke-linejoin="miter" stroke-miterlimit="10"/>
<path d="M456.44,1495.7H492.65V1531.9H456.44Z" fill="#228eb8" fill-opacity="0.7" stroke="#fff" stroke-opacity="0.7" stroke-width="3.4" stroke-linejoin="miter" stroke-miterlimit="10"/>
<path d="M486.23,1505.9H522.43V1542.1H486.23Z" fill="#228eb8" fill-opacity="0.7" stroke="#fff" stroke-opacity="0.7" stroke-width="3.4" stroke-linejoin="miter" stroke-miterlimit="10"/>
<path d="M516.01,1499.1H552.22V1535.3H516.01Z" fill="#228eb8" fill-opacity="0.7" stroke="#fff" stroke-opacity="0.7" stroke-width="3.4" stroke-linejoin="miter" stroke-miterlimit="10"/>
<path d="M545.8,1499.1H582V1535.3H545.8Z" fill="#228eb8" fill-opacity="0.7" stroke="#fff" stroke-opacity="0.7" stroke-width="3.4" stroke-linejoin="miter" stroke-miterlimit="10"/>
<path d="M575.58,1500.9H611.78V1537.1H575.58Z" fill="#228eb8" fill-opacity="0.7" stroke="#fff" stroke-opacity="0.7" stroke-width="3.4" stroke-linejoin="miter" stroke-miterlimit="10"/>
<path d="M605.37,1495.7H641.57V1531.9H605.37Z" fill="#228eb8" fill-opacity="0.7" stroke="#fff" stroke-opacity="0.7" stroke-width="3.4" stroke-linejoin="miter" stroke-miterlimit="10"/>
<path d="M635.15,1499.1H671.36V1535.3H635.15Z" fill="#228eb8" fill-opacity="0.7" stroke="#fff" stroke-opacity="0.7" stroke-width="3.4" stroke-linejoin="miter" stroke-miterlimit="10"/>
<path d="M664.94,1499.1H701.14V1535.3H664.94Z" fill="#228eb8" fill-opacity="0.7" stroke="#fff" stroke-opacity="0.7" stroke-width="3.4" stroke-linejoin="miter" stroke-miterlimit="10"/>
<path d="M694.73,1502.2H730.93V1538.4H694.73Z" fill="#228eb8" fill-opacity="0.7" stroke="#fff" stroke-opacity="0.7" stroke-width="3.4" stroke-linejoin="miter" stroke-miterlimit="10"/>
<path d="M724.51,1499.1H760.71V1535.3H724.51Z" fill="#228eb8" fill-opacity="0.7" stroke="#fff" stroke-opacity="0.7" stroke-width="3.4" stroke-linejoin="miter" stroke-miterlimit="10"/>
<path d="M754.29,1499.1H790.5V1535.3H754.29Z" fill="#228eb8" fill-opacity="0.7" stroke="#fff" stroke-opacity="0.7" stroke-width="3.4" stroke-linejoin="miter" stroke-miterlimit="10"/>
<path d="M784.08,1495.4H820.28V1531.6H784.08Z" fill="#228eb8" fill-opacity="0.7" stroke="#fff" stroke-opacity="0.7" stroke-width="3.4" stroke-linejoin="miter" stroke-miterlimit="10"/>
<path d="M813.86,1495.4H850.06V1531.6H813.86Z" fill="#228eb8" fill-opacity="0.7" stroke="#fff" stroke-opacity="0.7" stroke-width="3.4" stroke-linejoin="miter" stroke-miterlimit="10"/>
<path d="M843.65,1495.4H879.85V1531.6H843.65Z" fill="#228eb8" fill-opacity="0.7" stroke="#fff" stroke-opacity="0.7" stroke-width="3.4" stroke-linejoin="miter" stroke-miterlimit="10"/>
<path d="M873.44,1495.4H909.64V1531.6H873.44Z" fill="#228eb8" fill-opacity="0.7" stroke="#fff" stroke-opacity="0.7" stroke-width="3.4" stroke-linejoin="miter" stroke-miterlimit="10"/>
<path d="M903.22,1495.4H939.42V1531.6H903.22Z" fill="#228eb8" fill-opacity="0.7" stroke="#fff" stroke-opacity="0.7" stroke-width="3.4" stroke-linejoin="miter" stroke-miterlimit="10"/>
<path d="M933,1495.4H969.21V1531.6H933Z" fill="#228eb8" fill-opacity="0.7" stroke="#fff" stroke-opacity="0.7" stroke-width="3.4" stroke-linejoin="miter" stroke-miterlimit="10"/>
<path d="M962.79,1495.4H998.99V1531.6H962.79Z" fill="#228eb8" fill-opacity="0.7" stroke="#fff" stroke-opacity="0.7" stroke-width="3.4" stroke-linejoin="miter" stroke-miterlimit="10"/>
<path d="M992.57,1495.4H1028.77V1531.6H992.57Z" fill="#228eb8" fill-opacity="0.7" stroke="#fff" stroke-opacity="0.7" stroke-width="3.4" stroke-linejoin="miter" stroke-miterlimit="10"/>
<path d="M1022.36,1495.4H1058.56V1531.6H1022.36Z" fill="#228eb8" fill-opacity="0.7" stroke="#fff" stroke-opacity="0.7" stroke-width="3.4" stroke-linejoin="miter" stroke-miterlimit="10"/>
<path d="M1052.15,1495.4H1088.35V1531.6H1052.15Z" fill="#228eb8" fill-opacity="0.7" stroke="#fff" stroke-opacity="0.7" stroke-width="3.4" stroke-linejoin="miter" stroke-miterlimit="10"/>
<path d="M1081.93,1495.4H1118.13V1531.6H1081.93Z" fill="#228eb8" fill-opacity="0.7" stroke="#fff" stroke-opacity="0.7" stroke-width="3.4" stroke-linejoin="miter" stroke-miterlimit="10"/>
<path d="M1111.72,1492.9H1147.91V1529.1H1111.72Z" fill="#228eb8" fill-opacity="0.7" stroke="#fff" stroke-opacity="0.7" stroke-width="3.4" stroke-linejoin="miter" stroke-miterlimit="10"/>
<path d="M1141.5,1495.4H1177.7V1531.6H1141.5Z" fill="#228eb8" fill-opacity="0.7" stroke="#fff" stroke-opacity="0.7" stroke-width="3.4" stroke-linejoin="miter" stroke-miterlimit="10"/>
<path d="M1171.29,1499H1207.48V1535.2H1171.29Z" fill="#228eb8" fill-opacity="0.7" stroke="#fff" stroke-opacity="0.7" stroke-width="3.4" stroke-linejoin="miter" stroke-miterlimit="10"/>
<polyline points="266.05,1329.75 295.84,1238 325.62,1206.6 355.41,1194.4 385.19,1203.8 414.98,1207.5 444.76,1197.2 474.55,1197.2 504.33,1206.6 534.12,1203.8 563.9,1218 593.68,1199.5 623.47,1182.4 653.25,1206.6 683.04,1200 712.83,1220.8 742.61,1203.2 772.39,1206.6 802.18,1188.7 831.96,1193.2 861.75,1196.7 891.54,1185.8 921.32,1182.4 951.11,1181 980.89,1186.7 1010.67,1182.4 1040.46,1185.8 1070.25,1185.8 1100.03,1181.8 1129.82,1179.6 1159.6,1198.9 1189.38,1197.2" fill="none" stroke="#228eb8" stroke-opacity="0.7" stroke-width="10.9" stroke-linejoin="round" stroke-dasharray="40.33 17.44"/>
<path d="M266.05,1311.65L247.95,1347.85L284.15,1347.85Z" fill="#228eb8" fill-opacity="0.7" stroke="#fff" stroke-opacity="0.7" stroke-width="3.4" stroke-linejoin="miter" stroke-miterlimit="10"/>
<path d="M295.84,1219.9L277.74,1256.1L313.94,1256.1Z" fill="#228eb8" fill-opacity="0.7" stroke="#fff" stroke-opacity="0.7" stroke-width="3.4" stroke-linejoin="miter" stroke-miterlimit="10"/>
<path d="M325.62,1188.5L307.52,1224.7L343.72,1224.7Z" fill="#228eb8" fill-opacity="0.7" stroke="#fff" stroke-opacity="0.7" stroke-width="3.4" stroke-linejoin="miter" stroke-miterlimit="10"/>
<path d="M355.41,1176.3L337.31,1212.5L373.51,1212.5Z" fill="#228eb8" fill-opacity="0.7" stroke="#fff" stroke-opacity="0.7" stroke-width="3.4" stroke-linejoin="miter" stroke-miterlimit="10"/>
<path d="M385.19,1185.7L367.09,1221.9L403.29,1221.9Z" fill="#228eb8" fill-opacity="0.7" stroke="#fff" stroke-opacity="0.7" stroke-width="3.4" stroke-linejoin="miter" stroke-miterlimit="10"/>
<path d="M414.98,1189.4L396.88,1225.6L433.08,1225.6Z" fill="#228eb8" fill-opacity="0.7" stroke="#fff" stroke-opacity="0.7" stroke-width="3.4" stroke-linejoin="miter" stroke-miterlimit="10"/>
<path d="M444.76,1179.1L426.66,1215.3L462.86,1215.3Z" fill="#228eb8" fill-opacity="0.7" stroke="#fff" stroke-opacity="0.7" stroke-width="3.4" stroke-linejoin="miter" stroke-miterlimit="10"/>
<path d="M474.55,1179.1L456.44,1215.3L492.65,1215.3Z" fill="#228eb8" fill-opacity="0.7" stroke="#fff" stroke-opacity="0.7" stroke-width="3.4" stroke-linejoin="miter" stroke-miterlimit="10"/>
<path d="M504.33,1188.5L486.23,1224.7L522.43,1224.7Z" fill="#228eb8" fill-opacity="0.7" stroke="#fff" stroke-opacity="0.7" stroke-width="3.4" stroke-linejoin="miter" stroke-miterlimit="10"/>
<path d="M534.12,1185.7L516.01,1221.9L552.22,1221.9Z" fill="#228eb8" fill-opacity="0.7" stroke="#fff" stroke-opacity="0.7" stroke-width="3.4" stroke-linejoin="miter" stroke-miterlimit="10"/>
<path d="M563.9,1199.9L545.8,1236.1L582,1236.1Z" fill="#228eb8" fill-opacity="0.7" stroke="#fff" stroke-opacity="0.7" stroke-width="3.4" stroke-linejoin="miter" stroke-miterlimit="10"/>
<path d="M593.68,1181.4L575.58,1217.6L611.78,1217.6Z" fill="#228eb8" fill-opacity="0.7" stroke="#fff" stroke-opacity="0.7" stroke-width="3.4" stroke-linejoin="miter" stroke-miterlimit="10"/>
<path d="M623.47,1164.3L605.37,1200.5L641.57,1200.5Z" fill="#228eb8" fill-opacity="0.7" stroke="#fff" stroke-opacity="0.7" stroke-width="3.4" stroke-linejoin="miter" stroke-miterlimit="10"/>
<path d="M653.25,1188.5L635.15,1224.7L671.36,1224.7Z" fill="#228eb8" fill-opacity="0.7" stroke="#fff" stroke-opacity="0.7" stroke-width="3.4" stroke-linejoin="miter" stroke-miterlimit="10"/>
<path d="M683.04,1181.9L664.94,1218.1L701.14,1218.1Z" fill="#228eb8" fill-opacity="0.7" stroke="#fff" stroke-opacity="0.7" stroke-width="3.4" stroke-linejoin="miter" stroke-miterlimit="10"/>
<path d="M712.83,1202.7L694.73,1238.9L730.93,1238.9Z" fill="#228eb8" fill-opacity="0.7" stroke="#fff" stroke-opacity="0.7" stroke-width="3.4" stroke-linejoin="miter" stroke-miterlimit="10"/>
<path d="M742.61,1185.1L724.51,1221.3L760.71,1221.3Z" fill="#228eb8" fill-opacity="0.7" stroke="#fff" stroke-opacity="0.7" stroke-width="3.4" stroke-linejoin="miter" stroke-miterlimit="10"/>
<path d="M772.39,1188.5L754.29,1224.7L790.5,1224.7Z" fill="#228eb8" fill-opacity="0.7" stroke="#fff" stroke-opacity="0.7" stroke-width="3.4" stroke-linejoin="miter" stroke-miterlimit="10"/>
<path d="M802.18,1170.6L784.08,1206.8L820.28,1206.8Z" fill="#228eb8" fill-opacity="0.7" stroke="#fff" stroke-opacity="0.7" stroke-width="3.4" stroke-linejoin="miter" stroke-miterlimit="10"/>
<path d="M831.96,1175.1L813.86,1211.3L850.06,1211.3Z" fill="#228eb8" fill-opacity="0.7" stroke="#fff" stroke-opacity="0.7" stroke-width="3.4" stroke-linejoin="miter" stroke-miterlimit="10"/>
<path d="M861.75,1178.6L843.65,1214.8L879.85,1214.8Z" fill="#228eb8" fill-opacity="0.7" stroke="#fff" stroke-opacity="0.7" stroke-width="3.4" stroke-linejoin="miter" stroke-miterlimit="10"/>
<path d="M891.54,1167.7L873.44,1203.9L909.64,1203.9Z" fill="#228eb8" fill-opacity="0.7" stroke="#fff" stroke-opacity="0.7" stroke-width="3.4" stroke-linejoin="miter" stroke-miterlimit="10"/>
<path d="M921.32,1164.3L903.22,1200.5L939.42,1200.5Z" fill="#228eb8" fill-opacity="0.7" stroke="#fff" stroke-opacity="0.7" stroke-width="3.4" stroke-linejoin="miter" stroke-miterlimit="10"/>
<path d="M951.11,1162.9L933,1199.1L969.21,1199.1Z" fill="#228eb8" fill-opacity="0.7" stroke="#fff" stroke-opacity="0.7" stroke-width="3.4" stroke-linejoin="miter" stroke-miterlimit="10"/>
<path d="M980.89,1168.6L962.79,1204.8L998.99,1204.8Z" fill="#228eb8" fill-opacity="0.7" stroke="#fff" stroke-opacity="0.7" stroke-width="3.4" stroke-linejoin="miter" stroke-miterlimit="10"/>
<path d="M1010.67,1164.3L992.57,1200.5L1028.77,1200.5Z" fill="#228eb8" fill-opacity="0.7" stroke="#fff" stroke-opacity="0.7" stroke-width="3.4" stroke-linejoin="miter" stroke-miterlimit="10"/>
<path d="M1040.46,1167.7L1022.36,1203.9L1058.56,1203.9Z" fill="#228eb8" fill-opacity="0.7" stroke="#fff" stroke-opacity="0.7" stroke-width="3.4" stroke-linejoin="miter" stroke-miterlimit="10"/>
<path d="M1070.25,1167.7L1052.15,1203.9L1088.35,1203.9Z" fill="#228eb8" fill-opacity="0.7" stroke="#fff" stroke-opacity="0.7" stroke-width="3.4" stroke-linejoin="miter" stroke-miterlimit="10"/>
<path d="M1100.03,1163.7L1081.93,1199.9L1118.13,1199.9Z" fill="#228eb8" fill-opacity="0.7" stroke="#fff" stroke-opacity="0.7" stroke-width="3.4" stroke-linejoin="miter" stroke-miterlimit="10"/>
<path d="M1129.82,1161.5L1111.72,1197.7L1147.91,1197.7Z" fill="#228eb8" fill-opacity="0.7" stroke="#fff" stroke-opacity="0.7" stroke-width="3.4" stroke-linejoin="miter" stroke-miterlimit="10"/>
<path d="M1159.6,1180.8L1141.5,1217L1177.7,1217Z" fill="#228eb8" fill-opacity="0.7" stroke="#fff" stroke-opacity="0.7" stroke-width="3.4" stroke-linejoin="miter" stroke-miterlimit="10"/>
<path d="M1189.38,1179.1L1171.29,1215.3L1207.48,1215.3Z" fill="#228eb8" fill-opacity="0.7" stroke="#fff" stroke-opacity="0.7" stroke-width="3.4" stroke-linejoin="miter" stroke-miterlimit="10"/>
</g>
<rect x="220.35" y="1157.5" width="1015.15" height="402.65" fill="none" stroke="#000" stroke-width="3"/>
<line x1="266.05" y1="1560.15" x2="266.05" y2="1572.75" stroke="#000" stroke-width="2.9" />
<text x="266.05" y="1613.5" font-size="36.3" font-family="'DejaVu Sans','Liberation Sans',sans-serif" text-anchor="middle" >0</text>
<line x1="414.98" y1="1560.15" x2="414.98" y2="1572.75" stroke="#000" stroke-width="2.9" />
<text x="414.98" y="1613.5" font-size="36.3" font-family="'DejaVu Sans','Liberation Sans',sans-serif" text-anchor="middle" >5</text>
<line x1="563.9" y1="1560.15" x2="563.9" y2="1572.75" stroke="#000" stroke-width="2.9" />
<text x="563.9" y="1613.5" font-size="36.3" font-family="'DejaVu Sans','Liberation Sans',sans-serif" text-anchor="middle" >10</text>
<line x1="712.83" y1="1560.15" x2="712.83" y2="1572.75" stroke="#000" stroke-width="2.9" />
<text x="712.83" y="1613.5" font-size="36.3" font-family="'DejaVu Sans','Liberation Sans',sans-serif" text-anchor="middle" >15</text>
<line x1="861.75" y1="1560.15" x2="861.75" y2="1572.75" stroke="#000" stroke-width="2.9" />
<text x="861.75" y="1613.5" font-size="36.3" font-family="'DejaVu Sans','Liberation Sans',sans-serif" text-anchor="middle" >20</text>
<line x1="1010.67" y1="1560.15" x2="1010.67" y2="1572.75" stroke="#000" stroke-width="2.9" />
<text x="1010.67" y="1613.5" font-size="36.3" font-family="'DejaVu Sans','Liberation Sans',sans-serif" text-anchor="middle" >25</text>
<line x1="1159.6" y1="1560.15" x2="1159.6" y2="1572.75" stroke="#000" stroke-width="2.9" />
<text x="1159.6" y="1613.5" font-size="36.3" font-family="'DejaVu Sans','Liberation Sans',sans-serif" text-anchor="middle" >30</text>
<line x1="207.75" y1="1541.9" x2="220.35" y2="1541.9" stroke="#000" stroke-width="2.9" />
<text x="194.3" y="1556.5" font-size="36.3" font-family="'DejaVu Sans','Liberation Sans',sans-serif" text-anchor="end" >0</text>
<line x1="207.75" y1="1432.9" x2="220.35" y2="1432.9" stroke="#000" stroke-width="2.9" />
<text x="194.3" y="1447.5" font-size="36.3" font-family="'DejaVu Sans','Liberation Sans',sans-serif" text-anchor="end" >500</text>
<line x1="207.75" y1="1323.9" x2="220.35" y2="1323.9" stroke="#000" stroke-width="2.9" />
<text x="194.3" y="1338.5" font-size="36.3" font-family="'DejaVu Sans','Liberation Sans',sans-serif" text-anchor="end" >1000</text>
<line x1="207.75" y1="1214.9" x2="220.35" y2="1214.9" stroke="#000" stroke-width="2.9" />
<text x="194.3" y="1229.5" font-size="36.3" font-family="'DejaVu Sans','Liberation Sans',sans-serif" text-anchor="end" >1500</text>
<text transform="translate(79.6,1373.7) rotate(-90)" font-size="45.8" font-family="'Liberation Serif',serif" stroke="#000" stroke-width="0.5" text-anchor="middle">Required Rank</text>
<text x="732.9" y="1657.3" font-size="46" font-family="'Liberation Serif',serif" stroke="#000" stroke-width="0.5" text-anchor="middle" >Layer Index</text>
<text x="732.9" y="1703.7" font-size="48" font-family="'Liberation Serif',serif" stroke="#000" stroke-width="0.5" text-anchor="middle" >(c)</text>
<rect x="334.1" y="1300.2" width="883.2" height="116.8" rx="7.3" fill="#fff" fill-opacity="0.8" stroke="#ccc" stroke-opacity="0.8" stroke-width="3.4"/>
<line x1="344" y1="1329.5" x2="428" y2="1329.5" stroke="#00441b" stroke-width="10.9" stroke-opacity="0.7"/>
<line x1="812.7" y1="1329.5" x2="853" y2="1329.5" stroke="#228eb8" stroke-width="10.9" stroke-opacity="0.7"/>
<line x1="871.1" y1="1329.5" x2="885.6" y2="1329.5" stroke="#228eb8" stroke-width="10.9" stroke-opacity="0.7"/>
<line x1="344" y1="1383.3" x2="428" y2="1383.3" stroke="#00441b" stroke-width="10.9" stroke-opacity="0.7"/>
<line x1="812.7" y1="1383.3" x2="853" y2="1383.3" stroke="#228eb8" stroke-width="10.9" stroke-opacity="0.7"/>
<line x1="871.1" y1="1383.3" x2="885.6" y2="1383.3" stroke="#228eb8" stroke-width="10.9" stroke-opacity="0.7"/>
<path d="M367.5,1311.4H403.7V1347.6H367.5Z" fill="#00441b" fill-opacity="0.7" stroke="#fff" stroke-opacity="0.7" stroke-width="3.4" stroke-linejoin="miter" stroke-miterlimit="10"/>
<path d="M385.6,1365.2L367.5,1401.4L403.7,1401.4Z" fill="#00441b" fill-opacity="0.7" stroke="#fff" stroke-opacity="0.7" stroke-width="3.4" stroke-linejoin="miter" stroke-miterlimit="10"/>
<path d="M830.6,1311.4H866.8V1347.6H830.6Z" fill="#228eb8" fill-opacity="0.7" stroke="#fff" stroke-opacity="0.7" stroke-width="3.4" stroke-linejoin="miter" stroke-miterlimit="10"/>
<path d="M848.7,1365.2L830.6,1401.4L866.8,1401.4Z" fill="#228eb8" fill-opacity="0.7" stroke="#fff" stroke-opacity="0.7" stroke-width="3.4" stroke-linejoin="miter" stroke-miterlimit="10"/>
<text x="429.7" y="1341.5" font-size="36.3" font-family="'Liberation Serif',serif" stroke="#000" stroke-width="0.5" text-anchor="start" >W3A16 LLaMA-2-7B</text>
<text x="429.7" y="1395.6" font-size="36.3" font-family="'Liberation Serif',serif" stroke="#000" stroke-width="0.5" text-anchor="start" >W2A16 LLaMA-2-7B</text>
<text x="885.8" y="1341.5" font-size="36.3" font-family="'Liberation Serif',serif" stroke="#000" stroke-width="0.5" text-anchor="start" >W3A16 LLaMA-3-8B</text>
<text x="885.8" y="1395.6" font-size="36.3" font-family="'Liberation Serif',serif" stroke="#000" stroke-width="0.5" text-anchor="start" >W2A16 LLaMA-3-8B</text>
</svg>
</body></html>
